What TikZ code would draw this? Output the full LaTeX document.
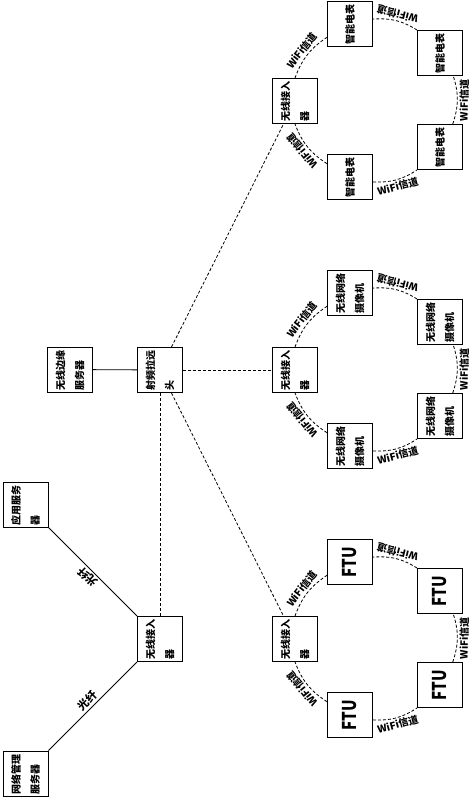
\documentclass[tikz,border=0pt]{standalone}
\usepackage{fontspec}
\usepackage{graphicx}
\usepackage{tikz}
\setmainfont{Noto Sans CJK SC}
\newfontfamily\ftufont[FakeStretch=0.8]{Noto Sans CJK SC}
\newcommand\vtext[1]{\rotatebox{90}{#1}}
\newcommand\twoline[2]{\rotatebox{90}{\parbox{41pt}{\raggedright #1\\#2}}}

\begin{document}
\begin{tikzpicture}[x=1pt, y=-1pt,
  box/.style={draw, line width=1pt, minimum size=45pt, inner sep=0pt, font=\fontsize{10}{19}\selectfont\bfseries},
  line/.style={line width=0.8pt},
  link/.style={line width=0.8pt, dash pattern=on 3pt off 2pt},
  wifi/.style={sloped, allow upside down, inner sep=1.5pt, font=\fontsize{10}{10}\selectfont\bfseries},
  fiber/.style={sloped, allow upside down, inner sep=2pt, font=\fontsize{11}{11}\selectfont\bfseries}]
\useasboundingbox (0,0) rectangle (474,798);

\node[box] (nms) at (25.5,773.5) {\twoline{网络管理}{服务器}};
\node[box] (app) at (25.5,504.5) {\twoline{应用服务}{器}};
\node[box] (mec) at (70,369.5) {\twoline{无线边缘}{服务器}};
\node[box] (rrh) at (160,370) {\twoline{射频拉远}{头}};
\node[box] (hub) at (160,639) {\twoline{无线接入}{器}};

\draw[line] (mec) -- (rrh);
\draw[line] (hub.north west) -- node[fiber, above] {光纤} (app.south east);
\draw[line] (nms.north east) -- node[fiber, above] {光纤} (hub.south west);

\foreach \n/\y/\dtxt in {a/101/{\vtext{智能电表}},
                         b/370/{\twoline{无线网络}{摄像机}},
                         c/639/{\vtext{\ftufont\fontsize{19}{19}\selectfont FTU}}} {
\node[box] (\n0) at (295,\y) {\twoline{无线接入}{器}};
\node[box] (\n1) at (350,\y-77) {\dtxt};
\node[box] (\n2) at (440,\y-48) {\dtxt};
\node[box] (\n3) at (440,\y+46) {\dtxt};
\node[box] (\n4) at (350,\y+76) {\dtxt};
\draw[link] (rrh) -- (\n0);
\draw[link] (\n0.north) to[bend left=18] node[wifi, above] {WiFi信道} (\n1.210);
\draw[link] (\n2.north west) to[bend right=18] node[wifi, below] {WiFi信道} (\n1.12);
\draw[link] (\n3.61) to[bend right=18] node[wifi, below] {WiFi信道} (\n2.-60);
\draw[link] (\n4.-12) to[bend right=18] node[wifi, below] {WiFi信道} (\n3.south west);
\draw[link] (\n4.150) to[bend left=18] node[wifi, above] {WiFi信道} (\n0.south);
}
\draw[link] (rrh) -- (hub);
\end{tikzpicture}
\end{document}
